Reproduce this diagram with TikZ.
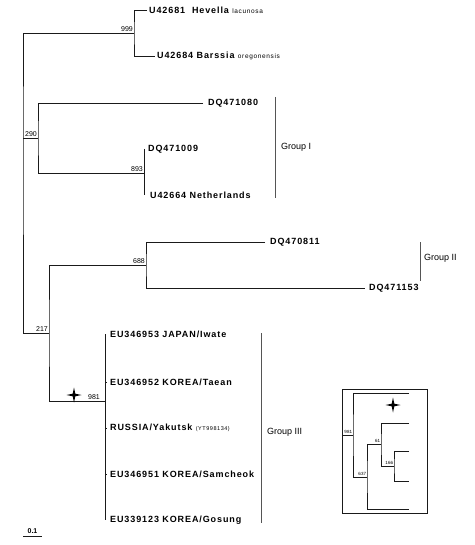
\documentclass[tikz,border=0pt]{standalone}
\usepackage{fontspec}
\setmainfont{Liberation Sans}
\newfontfamily\leaffont[LetterSpace=10]{Liberation Sans}
\usetikzlibrary{calc}
\definecolor{BRANCH}{HTML}{1A1A1A}
\definecolor{BAR}{HTML}{555555}
\tikzset{
    branch/.style={BRANCH, line width=0.8pt},
    groupbar/.style={BAR, line width=0.8pt},
    leaf/.style={anchor=west, inner sep=0pt, font=\leaffont\bfseries\fontsize{9}{10}\selectfont},
    boot/.style={anchor=south east, inner sep=1pt, font=\fontsize{7}{8}\selectfont},
    tinyboot/.style={anchor=south east, inner sep=0.8pt, font=\fontsize{4.5}{5}\selectfont},
    grouplabel/.style={anchor=west, inner sep=0pt, font=\fontsize{9}{10}\selectfont},
    sparkle/.pic={\fill[black] (0,7.5) -- (1.3,1.3) -- (7.5,0) -- (1.3,-1.3) -- (0,-7.5) -- (-1.3,-1.3) -- (-7.5,0) -- (-1.3,1.3) -- cycle;}
}
\newcommand\epithet[1]{\mbox{\mdseries\fontsize{6.5}{7}\selectfont #1}}
\begin{document}
\begin{tikzpicture}[x=1pt, y=-1pt]
    \useasboundingbox (0,0) rectangle (474,545);
    % main tree
    \coordinate (root) at (23,138);
    \coordinate (n999) at (134,33);
    \coordinate (n290) at (38,138);
    \coordinate (n893) at (144,173);
    \coordinate (n217) at (49,333);
    \coordinate (n688) at (146,265);
    \coordinate (n981) at (105,401);
    \coordinate (hev) at (147,10);
    \coordinate (bar) at (155,56);
    \coordinate (dq1080) at (203,103);
    \coordinate (dq1009) at (144,149);
    \coordinate (neth) at (144,195);
    \coordinate (dq0811) at (265,242);
    \coordinate (dq1153) at (365,288);
    \coordinate (iwate) at (105,334);
    \coordinate (taean) at (105,382);
    \coordinate (yakutsk) at (105,428);
    \coordinate (samcheok) at (105,474);
    \coordinate (gosung) at (105,520);
    \draw[branch] (n999) -| (root) |- (n217);
    \draw[branch] (root) -- (n290);
    \draw[branch] (hev) -| (n999) |- (bar);
    \draw[branch] (dq1080) -| (n290) |- (n893);
    \draw[branch] (dq1009) -- (neth);
    \draw[branch] (n688) -| (n217) |- (n981);
    \draw[branch] (dq0811) -| (n688) |- (dq1153);
    \draw[branch] (iwate) -- (gosung);
    \foreach \lf in {taean, yakutsk, samcheok}
        \draw[branch] (\lf) -- ++(2,0);
    \node[boot] (b999) at (n999) {999};
    \node[boot] (b290) at (n290) {290};
    \node[boot] (b893) at (n893) {893};
    \node[boot] (b217) at (n217) {217};
    \node[boot] (b688) at (n688) {688};
    \node[boot] (b981) at ($(n981)+(-4,0)$) {981};
    \pic at (74,395) {sparkle};
    \node[leaf] (thev) at ($(hev)+(2,0)$) {U42681\ \ Hevella\ \epithet{lacunosa}};
    \node[leaf] (tbar) at ($(bar)+(2,0)$) {U42684 Barssia\ \epithet{oregonensis}};
    \node[leaf] (tdq1080) at ($(dq1080)+(5,0)$) {DQ471080};
    \node[leaf] (tdq1009) at ($(dq1009)+(4,0)$) {DQ471009};
    \node[leaf] (tneth) at ($(neth)+(6,0)$) {U42664 Netherlands};
    \node[leaf] (tdq0811) at ($(dq0811)+(5,0)$) {DQ470811};
    \node[leaf] (tdq1153) at ($(dq1153)+(4,0)$) {DQ471153};
    \node[leaf] (tiwate) at ($(iwate)+(5,0)$) {EU346953 JAPAN/Iwate};
    \node[leaf] (ttaean) at ($(taean)+(5,0)$) {EU346952 KOREA/Taean};
    \node[leaf] (tyakutsk) at ($(yakutsk)+(5,0)$) {RUSSIA/Yakutsk \mbox{\mdseries\fontsize{5.5}{6}\selectfont (YT998134)}};
    \node[leaf] (tsamcheok) at ($(samcheok)+(5,0)$) {EU346951 KOREA/Samcheok};
    \node[leaf] (tgosung) at ($(gosung)+(5,0)$) {EU339123 KOREA/Gosung};
    % group bars
    \draw[groupbar] (275,97) coordinate (g1a) -- (275,198) coordinate (g1b);
    \node[grouplabel] (g1) at (281,147) {Group I};
    \draw[groupbar] (420,242) coordinate (g2a) -- (420,281) coordinate (g2b);
    \node[grouplabel] (g2) at (424,258) {Group II};
    \draw[groupbar] (261,333) coordinate (g3a) -- (261,523) coordinate (g3b);
    \node[grouplabel] (g3) at (267,432) {Group III};
    % scale bar
    \coordinate (sb1) at (23,536);
    \coordinate (sb2) at (42,536);
    \draw[branch] (sb1) -- (sb2);
    \node[inner sep=1pt, anchor=south, font=\bfseries\fontsize{7}{8}\selectfont] (sbl) at ($(sb1)!0.5!(sb2)+(0,-1)$) {0.1};
    % inset
    \draw[branch, line width=0.7pt] (342,389) rectangle (427,513);
    \coordinate (istub) at (342,435);
    \coordinate (ir) at (353,435);
    \coordinate (i637) at (367,477);
    \coordinate (i61) at (381,444);
    \coordinate (i166) at (394,466);
    \coordinate (il1) at (409,393);
    \coordinate (il2) at (409,423);
    \coordinate (il3) at (409,451);
    \coordinate (il4) at (409,481);
    \coordinate (il5) at (409,509);
    \draw[branch] (istub) -- (ir);
    \draw[branch] (il1) -| (ir) |- (i637);
    \draw[branch] (i61) -| (i637) |- (il5);
    \draw[branch] (il2) -| (i61) |- (i166);
    \draw[branch] (il3) -| (i166) |- (il4);
    \node[tinyboot] (ib981) at (ir) {981};
    \node[tinyboot] (ib637) at (i637) {637};
    \node[tinyboot] (ib61) at (i61) {61};
    \node[tinyboot] (ib166) at (i166) {166};
    \pic at (393,405) {sparkle};
\end{tikzpicture}
\end{document}
